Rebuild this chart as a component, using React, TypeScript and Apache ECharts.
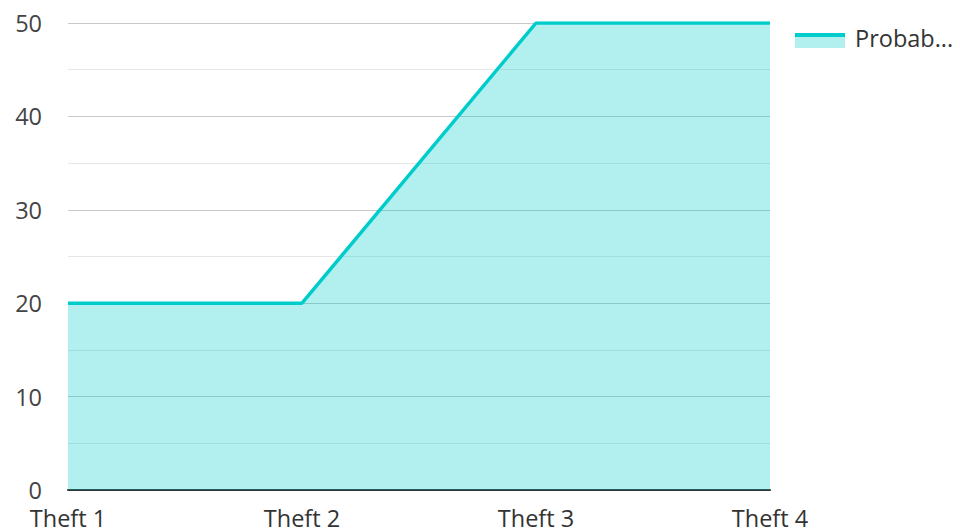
import React, { useEffect, useRef } from "react";
import * as echarts from "echarts";

const categories = ["Theft 1", "Theft 2", "Theft 3", "Theft 4"];
const values = [20, 20, 50, 50];
const seriesName = "Probability";
const legendLabel = "Probab...";

export default function App() {
  const ref = useRef<HTMLDivElement>(null);
  useEffect(() => {
    const chart = echarts.init(ref.current!, null, { renderer: "svg" });
    const font = "'Open Sans', 'Noto Sans', sans-serif";
    chart.setOption({
      animation: false,
      grid: { left: 68, right: 190, top: 23, bottom: 41, containLabel: false },
      xAxis: {
        type: "category",
        data: categories,
        boundaryGap: false,
        axisLine: { show: true, lineStyle: { color: "#333", width: 2 } },
        axisTick: { show: false },
        axisLabel: { color: "#333", fontSize: 23.5, fontFamily: font, margin: 16 },
        splitLine: { show: false },
      },
      yAxis: {
        type: "value",
        min: 0,
        max: 50,
        interval: 5,
        axisLine: { show: false },
        axisTick: { show: false },
        axisLabel: {
          color: "#444",
          fontSize: 23.5,
          fontFamily: font,
          margin: 26,
          formatter: (v: number) => (v % 10 === 0 ? String(v) : ""),
        },
        splitLine: { show: true, lineStyle: { color: ["#c8c8c8", "#e6e6e6"], width: 1 } },
      },
      series: [
        {
          name: seriesName,
          type: "line",
          data: values,
          symbol: "none",
          lineStyle: { color: "#00cccc", width: 3.5 },
          itemStyle: { color: "#00cccc" },
          areaStyle: { color: "#00cccc", opacity: 0.3 },
        },
      ],
      graphic: [
        { type: "rect", shape: { x: 795, y: 33, width: 50, height: 15 }, style: { fill: "#b2efef" } },
        { type: "line", shape: { x1: 795, y1: 35, x2: 845, y2: 35 }, style: { stroke: "#00cccc", lineWidth: 4 } },
        {
          type: "text",
          x: 855,
          y: 38,
          style: { text: legendLabel, fill: "#333", font: `23.5px ${font}`, verticalAlign: "middle", align: "left" },
        },
      ],
    });
    return () => chart.dispose();
  }, []);
  return <div ref={ref} style={{ width: 960, height: 531, position: "absolute", left: 0, top: 0 }} />;
}
